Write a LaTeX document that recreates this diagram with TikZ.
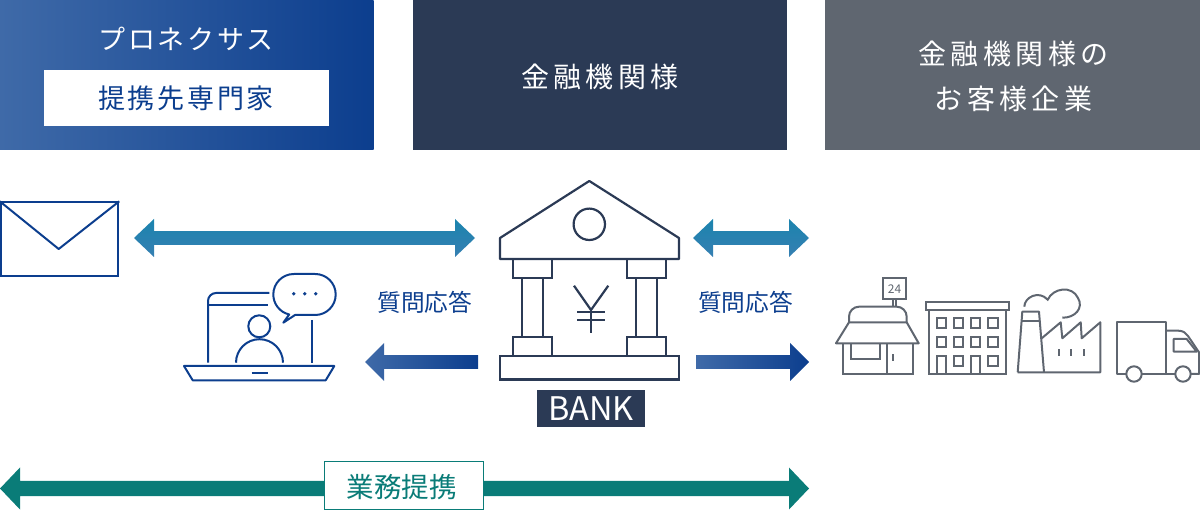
\documentclass[tikz,border=0pt]{standalone}
\usepackage{fontspec}
\setmainfont{Noto Sans CJK JP}
\newfontfamily\headfont[LetterSpace=10]{Noto Sans CJK JP}
\newfontfamily\bankfont[LetterSpace=16]{Noto Sans CJK JP}
\usetikzlibrary{positioning,calc}
\definecolor{problue}{HTML}{0C3E8E}
\definecolor{problueL}{HTML}{3F6AA8}
\definecolor{banknavy}{HTML}{2B3A55}
\definecolor{custgrey}{HTML}{5F6670}
\definecolor{tealT}{HTML}{1B84AE}
\definecolor{tealB}{HTML}{367FB2}
\definecolor{teikei}{HTML}{0A7C78}
\tikzstyle{head} = [rectangle, minimum height=150pt, outer sep=0pt, inner sep=0pt, anchor=north west]
\tikzstyle{headtext} = [text=white, font=\headfont\fontsize{27}{44}\selectfont, align=center, inner sep=0pt]
\tikzstyle{bubu} = [font=\fontsize{23.7}{28}\selectfont, text=problue, inner sep=0pt]
\tikzstyle{lapline} = [draw=problue, line width=2pt]
\tikzstyle{bankline} = [draw=banknavy, line width=2.2pt]
\tikzstyle{custline} = [draw=custgrey, line width=2pt]
\tikzstyle{tealarr} = [top color=tealT, bottom color=tealB]
\tikzstyle{toleft} = [left color=problueL, right color=problue]
\tikzstyle{toright} = [left color=problueL, right color=problue]
\tikzstyle{greenarr} = [fill=teikei]
\newcommand{\bothways}[5]{\path[#3] let \p1=(#1), \p2=(#2) in
    (\x1,\y1) -- (\x1+20pt,\y1+#4) -- (\x1+20pt,\y1+#5) -- (\x2-20pt,\y1+#5) -- (\x2-20pt,\y1+#4)
    -- (\x2,\y1) -- (\x2-20pt,\y1-#4) -- (\x2-20pt,\y1-#5) -- (\x1+20pt,\y1-#5) -- (\x1+20pt,\y1-#4) -- cycle;}
\newcommand{\oneway}[3]{\path[#3] let \p1=(#1), \p2=(#2), \n1={sign(\x2-\x1)*19pt} in
    (\x1,\y1+6.8pt) -- (\x2-\n1,\y1+6.8pt) -- (\x2-\n1,\y1+19pt) -- (\x2,\y1)
    -- (\x2-\n1,\y1-19pt) -- (\x2-\n1,\y1-6.8pt) -- (\x1,\y1-6.8pt) -- cycle;}

\begin{document}
\begin{tikzpicture}[x=1pt,y=-1pt]
    \useasboundingbox (0,0) rectangle (1200,510);

    % header boxes
    \node[head, left color=problueL, right color=problue, minimum width=373.5pt] (prohead) at (0,0) {};
    \node[headtext] (pronexus) at (186,39) {プロネクサス};
    \node[rectangle, fill=white, minimum width=285pt, minimum height=56pt, inner sep=0pt, text=problue, font=\headfont\fontsize{27}{30}\selectfont] (partner) at (186,98) {提携先専門家};
    \node[head, fill=banknavy, minimum width=374.5pt] (bankhead) at (412.5,0) {};
    \node[headtext, font=\bankfont\fontsize{28}{30}\selectfont] (banktitle) at (600,77) {金融機関様};
    \node[head, fill=custgrey, minimum width=375pt] (custhead) at (825,0) {};
    \node[headtext, font=\bankfont\fontsize{28}{45}\selectfont] (custtitle) at (1013.5,76.5) {金融機関様の\\お客様企業};

    % mail
    \node[rectangle, draw=problue, line width=2pt, minimum width=117.5pt, minimum height=74pt, inner sep=0pt] (mail) at (59.5,239.3) {};
    \draw[lapline, line join=round] (mail.north west) -- (58.7,249) -- (mail.north east);

    % laptop
    \draw[lapline] (208,362.7) -- (208,301) arc[start angle=180, end angle=270, radius=8] -- (269.3,293);
    \draw[lapline] (208,305) -- (268.3,305);
    \draw[lapline] (312.3,320) -- (312.3,362.7);
    \draw[lapline, line join=round] (295,315) -- (315.2,315) arc[start angle=90, end angle=-90, radius=20.5] -- (293.8,274) arc[start angle=-90, end angle=-257, radius=20.5] -- (283.3,322.7) -- cycle;
    \foreach \x in {293.7,304.7,315.7} \fill[problue] (\x,293.7) circle (1.9);
    \draw[lapline] (259.3,326.3) circle (11);
    \draw[lapline] (236,362.7) arc[start angle=180, end angle=360, radius=23.5];
    \draw[lapline, line join=round] (184,366) -- (334.3,366) -- (325.7,380.3) -- (192.7,380.3) -- cycle;
    \draw[lapline] (251.7,372.7) -- (268.3,372.7);

    % bank
    \draw[bankline, line join=round] (500,238) -- (589.3,181) -- (679,238) -- (679,259) -- (500,259) -- cycle;
    \draw[bankline] (589.3,224.3) circle (15.7);
    \foreach \xa/\xb in {512.7/552,627/666.3} {
        \draw[bankline] (\xa,259) rectangle (\xb,277.7);
        \draw[bankline] (\xa,336.7) rectangle (\xb,356);
    }
    \foreach \xa/\xb in {522/542.7,635.7/656.7} {
        \draw[bankline] (\xa,277.7) -- (\xa,336.7);
        \draw[bankline] (\xb,277.7) -- (\xb,336.7);
    }
    \draw[bankline] (500,356) rectangle (679,379.5);
    \draw[bankline] (574,285.7) -- (591,310) -- (608.3,285.7);
    \draw[bankline] (591,310) -- (591,333.3);
    \draw[bankline] (577.3,311.7) -- (605,311.7);
    \draw[bankline] (577.3,319.7) -- (605,319.7);
    \node[rectangle, fill=banknavy, text=white, minimum width=108pt, minimum height=37.5pt, inner sep=0pt, font=\fontsize{32.5}{34}\selectfont] (bank) at (591,408.7) {BANK};

    % customers
    \draw[custline] (883,278.3) rectangle (906,299);
    \node[inner sep=0pt, text=custgrey, font=\fontsize{12}{13}\selectfont] (open) at (894.5,289) {24};
    \draw[custline] (892.7,299) -- (892.7,306.7);
    \draw[custline] (896.3,299) -- (896.3,306.7);
    \draw[custline, line join=round] (849,322.3) -- (849,316.7) arc[start angle=180, end angle=270, radius=10] -- (896.7,306.7) arc[start angle=270, end angle=360, radius=10] -- (906.7,322.3);
    \draw[custline, line join=round] (849,322.3) -- (906.7,322.3) -- (918.7,343.3) -- (836,343.3) -- cycle;
    \draw[custline] (843.3,343.3) -- (843.3,374) -- (912.7,374) -- (912.7,343.3);
    \draw[custline] (887.3,343.3) -- (887.3,374);
    \draw[custline] (893.3,354.3) -- (893.3,361);
    \draw[custline] (851,343.3) -- (851,359) -- (880,359) -- (880,343.3);

    \draw[custline] (926,302.3) rectangle (1009,309.7);
    \draw[custline] (929.3,309.7) rectangle (1006,374);
    \foreach \xa/\xb in {937/945.7,954.3/963.3,971.3/980.3,988.3/997.7} {
        \draw[custline] (\xa,318.3) rectangle (\xb,328.3);
        \draw[custline] (\xa,337.3) rectangle (\xb,347.3);
    }
    \draw[custline] (937,374) -- (937,355.7) -- (945.7,355.7) -- (945.7,374);
    \draw[custline] (971.3,374) -- (971.3,355.7) -- (980.3,355.7) -- (980.3,374);
    \draw[custline] (954.3,355.7) rectangle (963.3,366.3);
    \draw[custline] (988.3,355.7) rectangle (997.7,366.3);

    \draw[custline, line join=round] (1017.7,372.3) -- (1022.3,311.7) -- (1039,311.7) -- (1044,372.3);
    \draw[custline] (1021.5,321) -- (1040,321);
    \draw[custline, line join=round] (1041.7,338.3) -- (1060.7,322.3) -- (1062.3,338.3) -- (1080.7,322.3) -- (1081.7,338.3) -- (1100.3,322.3) -- (1100.3,372.3) -- (1017.7,372.3);
    \foreach \x in {1059,1071,1083.7} \draw[custline] (\x,349.3) -- (\x,356);
    \draw[custline] (1024.3,306.7) .. controls (1024.5,297) and (1039,290) .. (1047.7,299.7) .. controls (1053,288) and (1072,285) .. (1078,298) .. controls (1084,308) and (1075,318) .. (1062.3,317.7);

    \draw[custline, line join=round] (1126,374) -- (1116.7,374) -- (1116.7,321.7) -- (1165.7,321.7) -- (1165.7,374);
    \draw[custline, line join=round] (1165.7,330.7) -- (1178.3,330.7) .. controls (1183,330.7) and (1186,333) .. (1188,336) -- (1199,352.3) -- (1199,374) -- (1191,374);
    \draw[custline] (1142,374) -- (1175,374);
    \draw[custline] (1134,374) circle (7.7);
    \draw[custline] (1183,374) circle (7.7);
    \draw[custline, line join=round] (1173.7,339) -- (1186.7,339) -- (1196.7,351.7) -- (1173.7,351.7) -- cycle;

    % ends of the arrows
    \coordinate (mailend) at (134,238);
    \coordinate (bankleft) at (475,238);
    \coordinate (bankright) at (693,238);
    \coordinate (custend) at (809,238);
    \coordinate (lapend) at (365,362);
    \coordinate (bankout) at (478,362);
    \coordinate (bankin) at (696.7,362);
    \coordinate (custin) at (809,362);
    \coordinate (proend) at (0,488.5);
    \coordinate (bankend) at (809,488.5);

    \bothways{mailend}{bankleft}{tealarr}{19pt}{6.8pt}
    \bothways{bankright}{custend}{tealarr}{19pt}{6.8pt}
    \oneway{bankout}{lapend}{toleft}
    \oneway{bankin}{custin}{toright}
    \bothways{proend}{bankend}{greenarr}{21pt}{7.7pt}

    \node[bubu] (askpro) at (424.7,302) {質問応答};
    \node[bubu] (askcust) at (745.4,302) {質問応答};
    \node[rectangle, draw=teikei, line width=1.6pt, fill=white, minimum width=159pt, minimum height=48pt, inner sep=0pt] (alliance) at (404,485.7) {};
    \node[text=teikei, inner sep=0pt, font=\fontsize{27.5}{30}\selectfont] (alliancetext) at (401.5,487) {業務提携};
\end{tikzpicture}
\end{document}
